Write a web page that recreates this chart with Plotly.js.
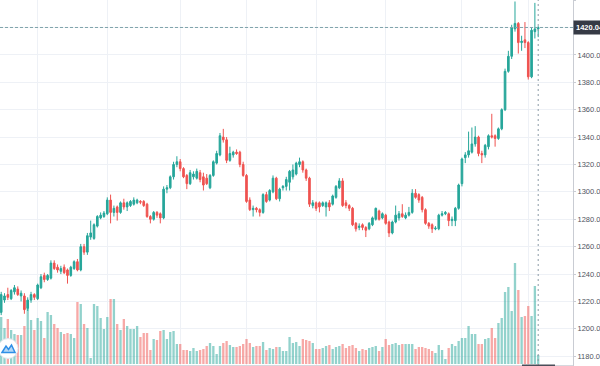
<!DOCTYPE html>
<html>
<head>
<meta charset="utf-8">
<script src="https://cdn.plot.ly/plotly-3.0.1.min.js"></script>
<style>html,body{margin:0;padding:0;background:#fff;}#chart{width:600px;height:366px;}</style>
</head>
<body>
<div id="chart"></div>
<script>
// Bar index (daily sessions), month-start bars used for vertical gridlines
const monthStarts = [11, 32, 54, 74, 95, 116, 139, 159];
const priceTicks = [1180, 1200, 1220, 1240, 1260, 1280, 1300, 1320, 1340, 1360, 1380, 1400, 1420, 1440];
const lastPrice = 1420.04;

const openP = [1212,1221,1225,1222,1227,1229,1224,1224,1215,1221,1225,1222,1230,1239,1236,1237,1248,1245,1242,1245,
1243,1239,1244,1249,1243,1260,1256,1267,1266,1275,1281,1282,1284,1294,1285,1289,1285,1292,1289,1290,
1291,1292,1293,1293,1291,1282,1280,1285,1284,1281,1302,1303,1311,1320,1322,1317,1312,1306,1311,1310,
1314,1311,1310,1303,1312,1321,1327,1340,1338,1323,1327,1329,1329,1320,1312,1294,1287,1288,1287,1285,
1298,1294,1300,1310,1295,1303,1304,1307,1311,1313,1320,1322,1316,1310,1290,1292,1292,1290,1289,1292,
1291,1296,1303,1308,1292,1290,1288,1277,1274,1276,1274,1273,1276,1280,1286,1281,1283,1278,1270,1278,
1281,1284,1281,1283,1285,1299,1298,1296,1287,1277,1276,1273,1273,1283,1284,1284,1279,1279,1288,1306,
1325,1327,1329,1335,1340,1328,1327,1333,1341,1341,1339,1346,1360,1388,1399,1419,1423,1409,1411,1409,
1384,1417,1419];
const highP = [1227,1226,1230,1229,1232,1231,1228,1226,1223,1227,1226,1233,1240,1241,1240,1250,1250,1247,1246,1247,
1244,1246,1250,1251,1262,1262,1270,1279,1277,1283,1285,1286,1296,1298,1290,1290,1293,1295,1293,1294,
1296,1295,1294,1294,1292,1283,1286,1286,1285,1304,1305,1312,1322,1326,1324,1318,1313,1316,1315,1317,
1316,1314,1313,1313,1323,1330,1343,1346,1340,1333,1330,1331,1330,1322,1313,1296,1290,1289,1288,1299,
1300,1302,1312,1311,1303,1305,1311,1316,1320,1322,1325,1323,1317,1311,1294,1293,1293,1293,1293,1294,
1298,1305,1310,1310,1294,1291,1289,1278,1277,1277,1275,1278,1282,1288.5,1287,1285,1284,1279,1279,1290,
1286,1291,1285,1289,1302,1302,1299,1297,1288,1278,1277,1275,1284,1286,1286,1285,1282,1289,1306,1325,
1329,1344,1347,1348,1341,1330,1335,1342,1357,1342,1347,1361,1390,1403,1422,1439,1424,1414,1424,1410,
1420,1438,1421];
const lowP = [1210,1219,1221,1221,1225,1224,1220,1211,1213,1219,1221,1221,1229,1234,1235,1236,1243,1241,1240,1240,
1233,1238,1243,1242,1242,1254,1254,1265,1265,1274,1280,1281,1283,1277,1282,1279,1284,1287,1286,1289,
1290,1291,1291,1289,1281,1277,1279,1281,1277,1280,1299,1302,1309,1318,1315,1310,1302,1305,1309,1309,
1307,1301,1305,1302,1311,1320,1326,1336,1321,1322,1325,1327,1318,1311,1292,1286,1282,1285,1282,1284,
1292,1293,1299,1294,1293,1301,1301,1301,1309,1312,1318,1314,1308,1289,1288,1286,1285,1289,1282,1286,
1290,1295,1302,1289,1288,1286,1275,1271,1272,1272,1267,1272,1275,1279,1279,1280,1276,1267,1269,1277,
1279,1281,1280,1282,1284,1295,1292,1285,1276,1273,1270,1272,1272,1282,1283,1275,1275,1275,1287,1304,
1321,1325,1328,1333,1326,1321,1325,1331,1339,1333,1338,1345,1359,1387,1397,1417,1401,1403,1405,1382,
1383,1412,1413];
const closeP = [1225,1224,1223,1228,1230,1225,1226,1214,1221,1225,1223,1232,1238,1236,1239,1248,1244,1243,1244,1241,
1239,1245,1249,1243,1260,1256,1268,1270,1276,1282,1283,1284.5,1294,1285,1288,1285,1292,1289,1292,1293,
1294,1294,1292.5,1290,1282,1280,1285,1283,1281,1302,1303,1311,1320,1322,1317,1311,1306,1314,1313,1315,
1309,1305,1306,1312,1322,1328,1341,1338,1323,1328,1329,1328,1320,1312,1293,1287,1288,1287,1285,1298,
1293,1301,1310,1295,1302,1304,1309,1315,1316,1321,1322,1316,1310,1291,1292,1288,1289,1292,1292,1289,
1297,1304,1308,1290,1290,1288,1276,1273,1275,1274,1272,1277,1281,1288,1280,1284,1277,1270,1278,1283,
1284,1282,1283,1285,1299,1296,1294,1287,1277,1275,1273,1273.5,1283,1284,1285,1279,1280,1288,1305,1324,
1327,1330,1335,1340,1328,1327,1334,1341,1340,1339,1346,1360,1388,1399,1420,1423,1409,1410,1409,1384,
1418,1419,1420.04];
const volume = [47,36,45,34,30,29,29,38,63,44,34,46,43,26,52,49,40,36,32,30,
31,30,26,62,60,40,36,6,60,58,46,35,47,65,65,40,34,45,38,35,
35,38,27,31,31,14,25,24,33,34,25,32,33,20,20,14,14,13,16,13,
14,15,18,21,18,10,18,21,23,19,17,17,18,20,25,21,17,18,18,22,
14,16,15,17,17,13,13,27,21,22,18,25,24,23,21,15,15,16,18,19,
15,17,18,20,16,18,19,16,13,15,14,16,17,18,13,17,25,19,20,21,
19,20,20,20,20,15,17,17,16,15,13,11,19,14,5,16,20,18,23,26,
26,38,30,30,20,20,25,26,36,26,41,46,72,77,53,101,74,47,48,58,
48,78,9];

const idx = closeP.map((_, i) => i);
const upCol = '#26a69a', dnCol = '#ef5350';
const volCols = closeP.map((c, i) => c >= openP[i] ? 'rgba(38,166,154,0.5)' : 'rgba(239,83,80,0.5)');

const traces = [
  {type: 'bar', x: idx, y: volume, xaxis: 'x', yaxis: 'y',
   marker: {color: volCols, line: {width: 0}}, hoverinfo: 'skip'},
  {type: 'candlestick', x: idx, open: openP, high: highP, low: lowP, close: closeP,
   xaxis: 'x', yaxis: 'y2',
   increasing: {line: {color: upCol, width: 1}, fillcolor: upCol},
   decreasing: {line: {color: dnCol, width: 1}, fillcolor: dnCol},
   whiskerwidth: 0, hoverinfo: 'skip'}
];

const W = 573, H = 366; // plot area in px (used for the decorative logo only)
const px = v => v / W, py = v => (H - v) / H;
const logoPath = 'M ' + px(2) + ',' + py(352.5) + ' L ' + px(6) + ',' + py(346) + ' L ' + px(8.5) + ',' + py(349.5) +
  ' L ' + px(11.5) + ',' + py(345) + ' L ' + px(15) + ',' + py(352.5) + ' Z';

const layout = {
  width: 600, height: 366,
  margin: {l: 0, r: 27, t: 0, b: 0, pad: 0},
  paper_bgcolor: '#ffffff', plot_bgcolor: '#ffffff',
  showlegend: false, bargap: 0.3,
  xaxis: {range: [-0.36, 172.5], tickmode: 'array', tickvals: monthStarts, showticklabels: false,
    ticks: '', showgrid: true, gridcolor: '#eef1f6', gridwidth: 1, zeroline: false, showline: false,
    rangeslider: {visible: false}, fixedrange: true},
  yaxis: {range: [-2, 364], showgrid: false, zeroline: false, showticklabels: false, ticks: '', fixedrange: true},
  yaxis2: {overlaying: 'y', side: 'right', range: [1172.85, 1440.1], tickmode: 'array', tickvals: priceTicks,
    tickformat: '.2f', showgrid: true, gridcolor: '#eef1f6', gridwidth: 1, zeroline: false,
    showline: true, linecolor: '#c9ccd3', linewidth: 1, ticks: 'outside', ticklen: 2, tickcolor: '#c9ccd3',
    tickfont: {family: 'Liberation Sans, Arial, sans-serif', size: 7.5, color: '#50535e'}, fixedrange: true},
  shapes: [
    {type: 'line', xref: 'paper', yref: 'y2', x0: 0, x1: 1, y0: lastPrice, y1: lastPrice,
     line: {color: '#7fa3aa', width: 1, dash: '3px,2px'}, layer: 'above'},
    {type: 'line', xref: 'x', yref: 'paper', x0: idx[idx.length - 1], x1: idx[idx.length - 1], y0: 0, y1: 1,
     line: {color: '#8c9aa6', width: 1, dash: '2px,3px'}, layer: 'above'},
    {type: 'line', xref: 'paper', yref: 'paper', x0: 0, x1: 1, y0: py(365.5), y1: py(365.5),
     line: {color: '#d6d8de', width: 1}, layer: 'above'},
    {type: 'rect', xref: 'paper', yref: 'paper', x0: px(522), x1: px(555), y0: py(366), y1: py(364.5),
     line: {width: 0}, fillcolor: '#4a4e59', layer: 'above'},
    {type: 'circle', xref: 'paper', yref: 'paper', x0: px(-2), x1: px(18), y0: py(358.5), y1: py(338.5),
     line: {color: '#e3e6ec', width: 1}, fillcolor: '#ffffff', layer: 'above'},
    {type: 'path', xref: 'paper', yref: 'paper', path: logoPath,
     line: {color: '#2f8fe6', width: 1.5}, fillcolor: 'rgba(47,143,230,0.35)', layer: 'above'}
  ],
  annotations: [
    {xref: 'paper', yref: 'y2', x: 1, y: lastPrice, xanchor: 'left', yanchor: 'middle', xshift: 0,
     text: '<b>' + lastPrice.toFixed(2) + '</b>', showarrow: false, bgcolor: '#363a45',
     font: {family: 'Liberation Sans, Arial, sans-serif', size: 7.5, color: '#ffffff'}, borderpad: 2}
  ]
};

Plotly.newPlot('chart', traces, layout, {displayModeBar: false, staticPlot: true});
</script>
</body>
</html>
